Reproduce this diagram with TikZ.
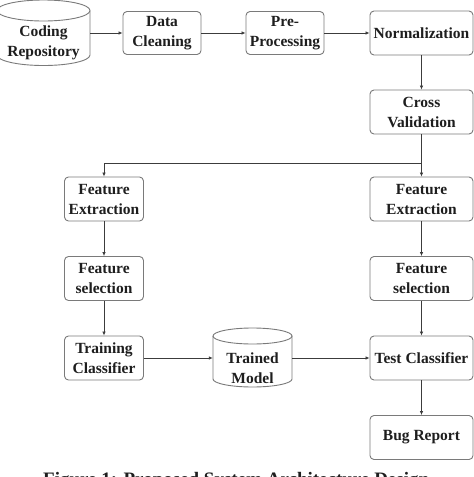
\documentclass[tikz,border=0pt]{standalone}
\usepackage{fontspec}
\setmainfont{Liberation Serif}
\usetikzlibrary{arrows.meta}
\definecolor{boxgray}{HTML}{7A7A7A}
\definecolor{linegray}{HTML}{3C3C3C}
\definecolor{txt}{HTML}{1E1E1E}
\tikzset{
  box/.style={draw=boxgray, line width=0.9pt, rounded corners=4pt, align=center,
    text=txt, font=\fontsize{15.5}{20}\bfseries\selectfont, inner sep=0pt},
  boxS/.style={box, minimum width=78, minimum height=43},
  boxL/.style={box, minimum width=79, minimum height=44},
  boxR/.style={box, minimum width=103, minimum height=44},
  cyl/.style={draw=boxgray, line width=0.9pt},
  cyltext/.style={align=center, text=txt, font=\fontsize{15.5}{20}\bfseries\selectfont, inner sep=0pt},
  holder/.style={inner sep=0pt},
  arr/.style={draw=linegray, line width=0.7pt, -{Latex[length=4pt,width=3.5pt]}},
}
\begin{document}
\begin{tikzpicture}[x=1pt,y=1pt]
\useasboundingbox (0,0) rectangle (474,-477);
\clip (0,0) rectangle (474,-477);
\fill[white] (0,0) rectangle (474,-477);

% Coding Repository cylinder
\draw[cyl] (-3,-10.5) -- (-3,-55) arc[start angle=180,end angle=360,x radius=46.5,y radius=10.5] -- (90,-10.5);
\draw[cyl] (43.5,-10.5) ellipse [x radius=46.5, y radius=10.5];
\node[holder, minimum width=93, minimum height=66] (repo) at (43.5,-33) {};
\node[cyltext] (repotxt) at (43.5,-43) {Coding\\Repository};

% Trained Model cylinder
\draw[cyl] (213,-336) -- (213,-379) arc[start angle=180,end angle=360,x radius=39.5,y radius=8] -- (292,-336);
\draw[cyl] (252.5,-336) ellipse [x radius=39.5, y radius=8];
\node[holder, minimum width=79, minimum height=59] (model) at (252.5,-358) {};
\node[cyltext] (modeltxt) at (252.5,-368.5) {Trained\\Model};

\node[boxS] (clean) at (162,-33) {Data\\Cleaning};
\node[boxS] (pre) at (285,-33) {Pre-\\Processing};
\node[boxR] (norm) at (421.5,-33) {Normalization};
\node[boxR] (cross) at (421.5,-112) {Cross\\Validation};
\node[boxL] (fe1) at (104,-199) {Feature\\Extraction};
\node[boxR] (fe2) at (421.5,-199) {Feature\\Extraction};
\node[boxL] (fs1) at (104,-278.5) {Feature\\selection};
\node[boxR] (fs2) at (421.5,-278.5) {Feature\\selection};
\node[boxL] (train) at (104,-358) {Training\\Classifier};
\node[boxR] (test) at (421.5,-358) {Test Classifier};
\node[boxR] (bug) at (421.5,-437.5) {Bug Report};

\coordinate (split) at (421.5,-163);

\draw[arr] (repo.east) -- (clean.west);
\draw[arr] (clean) -- (pre);
\draw[arr] (pre) -- (norm);
\draw[arr] (norm) -- (cross);
\draw[arr] (cross) -- (fe2);
\draw[arr] (split) -| (fe1.north);
\draw[arr] (fe1) -- (fs1);
\draw[arr] (fs1) -- (train);
\draw[arr] (fe2) -- (fs2);
\draw[arr] (fs2) -- (test);
\draw[arr] (train.east) -- (model.west);
\draw[arr] (model.east) -- (test.west);
\draw[arr] (test) -- (bug);

\node[anchor=base west, inner sep=0pt, text=txt, font=\fontsize{19}{23}\bfseries\selectfont] (caption) at (43,-485.5) {Figure 1: Proposed System Architecture Design};
\end{tikzpicture}
\end{document}
